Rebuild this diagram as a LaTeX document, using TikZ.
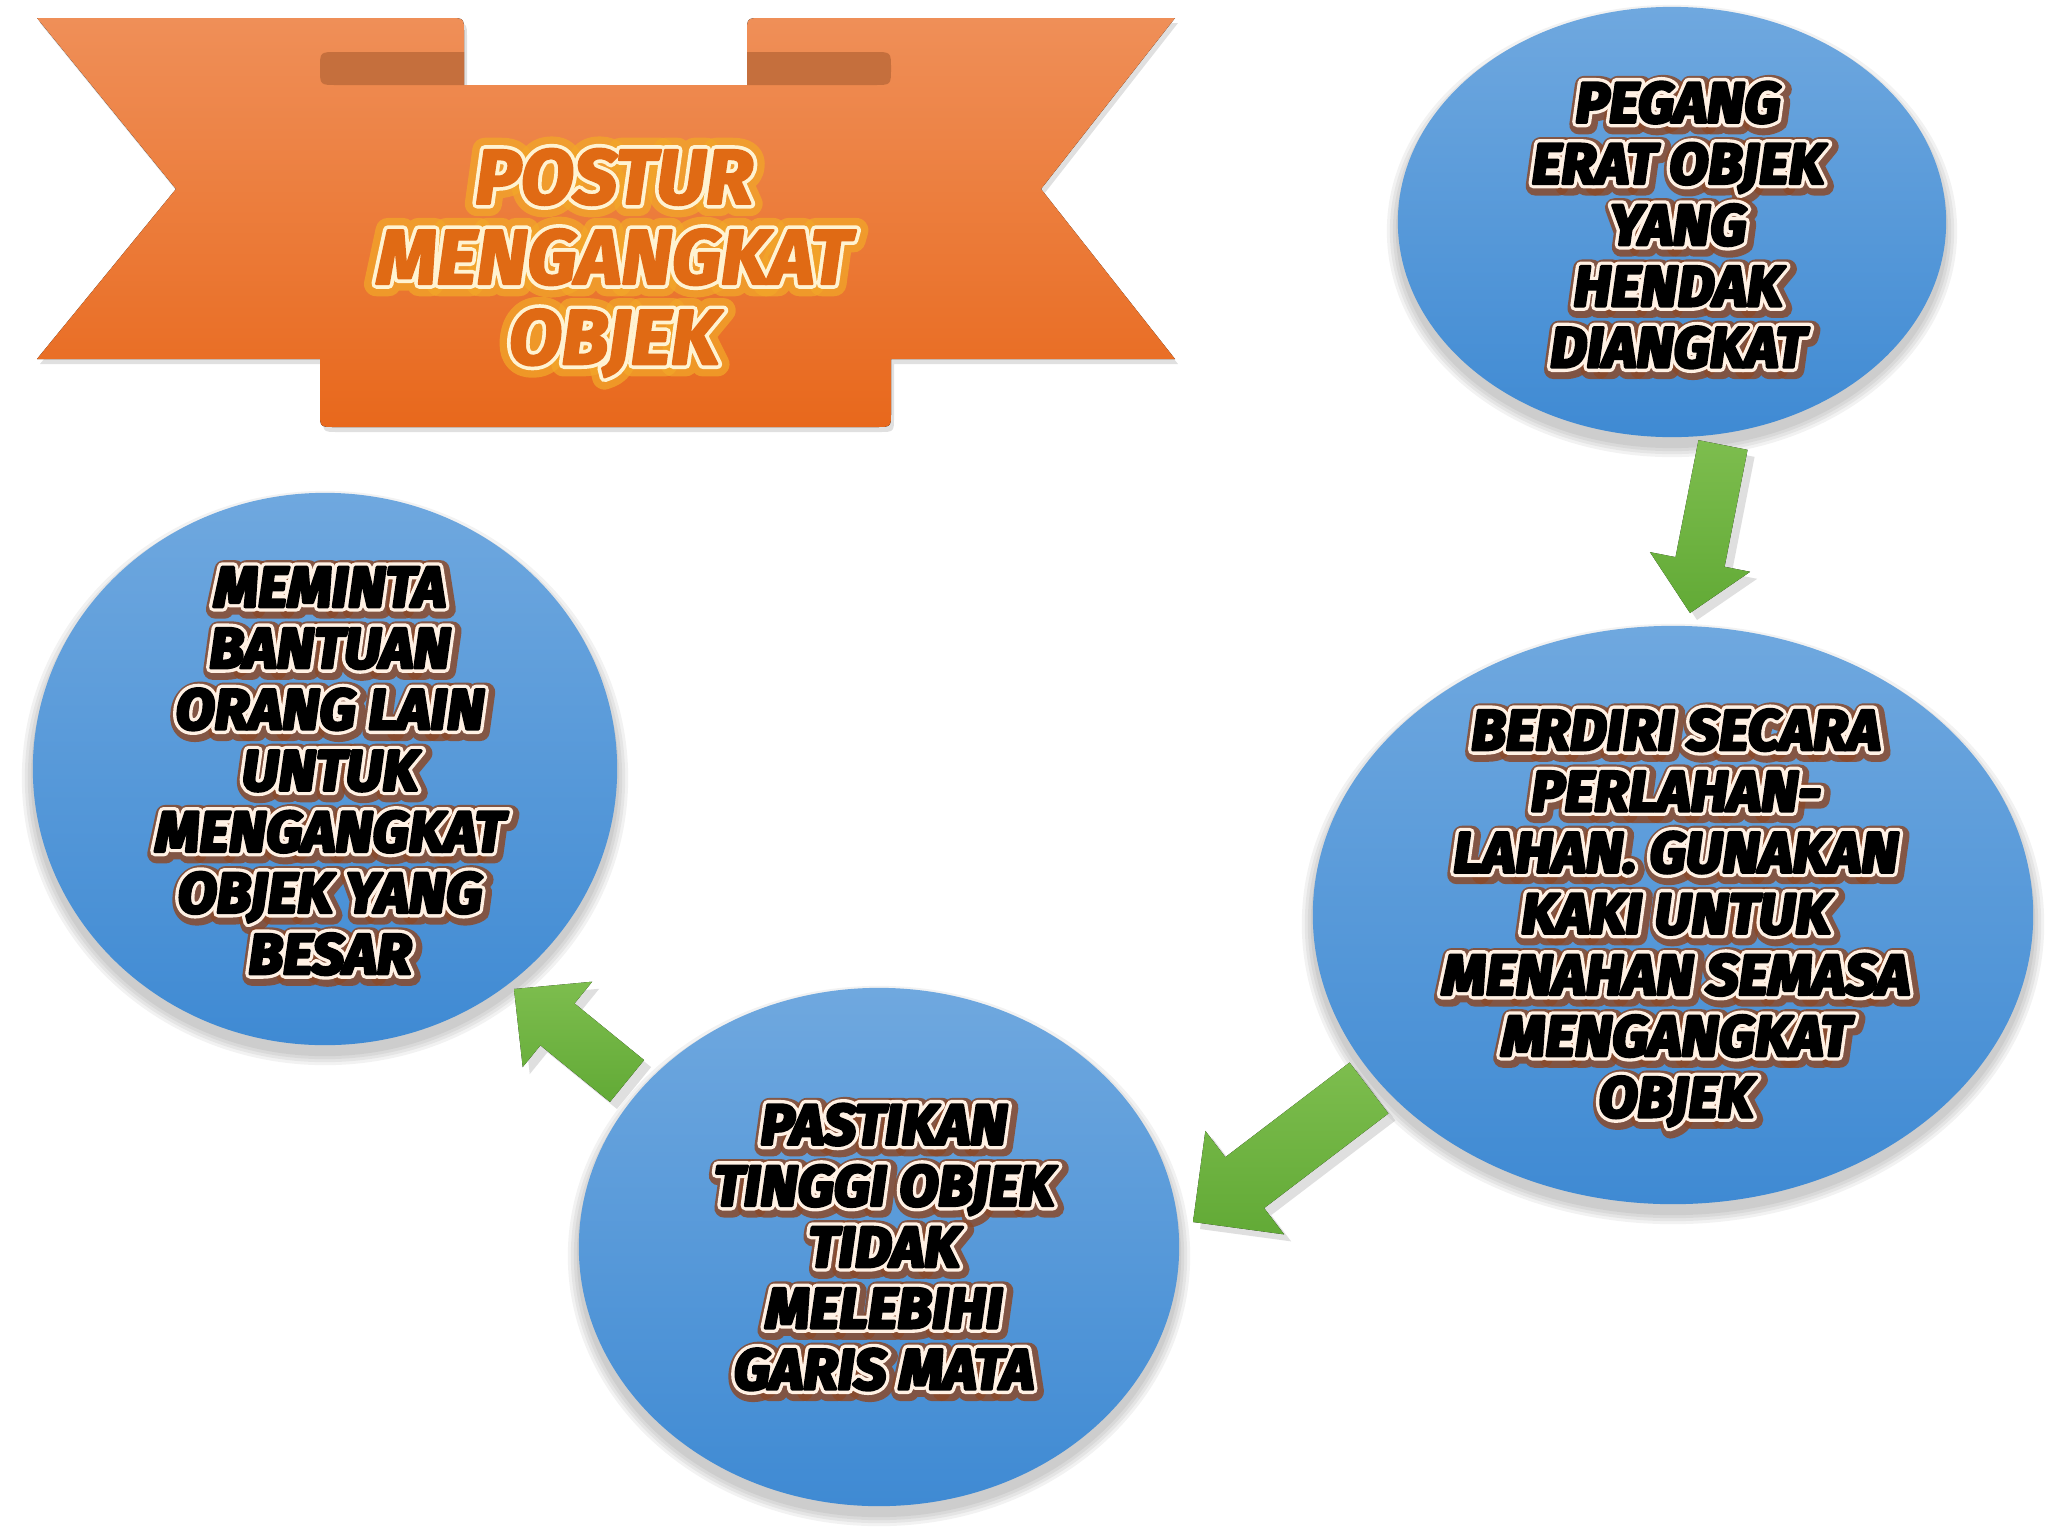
\documentclass[tikz,border=0pt]{standalone}
\usepackage{fontspec}
\setmainfont{Fira Sans}
\IfFontExistsTF{FiraSans-HeavyItalic.otf}
  {\newfontfamily\hvfont{FiraSans-HeavyItalic.otf}}
  {\IfFontExistsTF{FiraSans-ExtraBoldItalic.otf}
     {\newfontfamily\hvfont{FiraSans-ExtraBoldItalic.otf}}
     {\newcommand\hvfont{\bfseries\itshape}}}
\usetikzlibrary{calc,shapes.geometric,shadows}
\definecolor{orT}{HTML}{EF8F58}
\definecolor{orB}{HTML}{E8681C}
\definecolor{foldc}{HTML}{C56F3D}
\definecolor{blueT}{HTML}{6FA8DF}
\definecolor{blueB}{HTML}{3F8AD3}
\definecolor{grT}{HTML}{7DBD4E}
\definecolor{grB}{HTML}{62AA36}
\definecolor{titleor}{HTML}{E06A14}
\definecolor{glowbrown}{HTML}{8A4A2C}
\definecolor{ringcream}{HTML}{FFF1E4}
\definecolor{glowgold}{HTML}{F2A52A}
\definecolor{ringtitle}{HTML}{FFF3D2}
% outlined text: fill in current colour, stroke in given rgb and width
\newcommand\strk[3]{\special{pdf:literal direct 1 j 2 Tr #2 w #1 RG}#3\special{pdf:literal direct 0 Tr 0 j}}
\newcommand\qqm[1]{\strk{0 0 0}{0.9}{#1}}
\newcommand\qqr[1]{\strk{1 0.945 0.894}{2.8}{#1}}
\newcommand\qqg[1]{\strk{0.54 0.29 0.17}{5.4}{#1}}
\newcommand\qtm[1]{\strk{0.878 0.416 0.078}{0.7}{#1}}
\newcommand\qtr[1]{\strk{1 0.953 0.824}{2.8}{#1}}
\newcommand\qtg[1]{\strk{0.95 0.65 0.16}{7.0}{#1}}
\newcommand\bannerpath{(37,18) -- (449,18) .. controls (464,18) .. (464,33) -- (464,85) -- (747,85) -- (747,33)
  .. controls (747,18) .. (762,18) -- (1175,18) -- (1041,189) -- (1175,359) -- (891,359) -- (891,412)
  .. controls (891,427) .. (876,427) -- (335,427) .. controls (320,427) .. (320,412) -- (320,359)
  -- (37,359) -- (176,189) -- cycle}
\newcommand\barrow[5]{%
  \coordinate (bah) at ($(#2)!#5!(#1)$);
  \fill[arrowfill] ($(#1)!#3!90:(#2)$) -- ($(bah)!#3!90:(#2)$) -- ($(bah)!#4!90:(#2)$) -- (#2)
    -- ($(bah)!#4!-90:(#2)$) -- ($(bah)!#3!-90:(#2)$) -- ($(#1)!#3!-90:(#2)$) -- cycle;}
\tikzset{
  bubble/.style={ellipse, inner sep=0pt, top color=blueT, bottom color=blueB, draw=none},
  bshadow/.style={fill=black, opacity=0.05},
  btxt/.style={align=center, inner sep=0pt, text=black, font=\hvfont\fontsize{16.2}{17.4}\selectfont},
  bring/.style={btxt, text=ringcream},
  bglow/.style={btxt, text=glowbrown, text opacity=0.85, xshift=0.5pt, yshift=-0.7pt},
  ttxt/.style={align=center, inner sep=0pt, text=titleor, font=\hvfont\fontsize{22}{22.8}\selectfont},
  tring/.style={ttxt, text=ringtitle},
  tglow/.style={ttxt, text=glowgold, text opacity=0.75},
  arrowfill/.style={top color=grT, bottom color=grB, drop shadow={opacity=0.25, shadow xshift=2pt, shadow yshift=-2pt}},
  bannerfill/.style={top color=orT, bottom color=orB},
}
\begin{document}
\begin{tikzpicture}[x=0.01cm,y=-0.01cm]
\useasboundingbox (0,0) rectangle (2048,1536);
\fill[white] (0,0) rectangle (2048,1536);
% banner shadow
\begin{scope}[shift={(3,5)}]
\fill[black, opacity=0.12] \bannerpath;
\end{scope}
% banner
\fill[bannerfill] \bannerpath;
\fill[foldc] (464,52) -- (337,52) .. controls (320,52) .. (320,68.5) .. controls (320,85) .. (337,85) -- (464,85) -- cycle;
\fill[foldc] (747,52) -- (874,52) .. controls (891,52) .. (891,68.5) .. controls (891,85) .. (874,85) -- (747,85) -- cycle;
\node[tglow] (titleglow) at (614,263) {\qtg{POSTUR}\\\qtg{MENGANGKAT}\\\qtg{OBJEK}};
\node[tring] (titlering) at (614,263) {\qtr{POSTUR}\\\qtr{MENGANGKAT}\\\qtr{OBJEK}};
\node[ttxt] (title) at (614,263) {\qtm{POSTUR}\\\qtm{MENGANGKAT}\\\qtm{OBJEK}};
% bubble shadows
\foreach \cx/\cy/\rx/\ry in {1672/222/2.74/2.15, 1673/915/3.60/2.89, 879/1247/3.00/2.59, 325/769/2.92/2.76}{
  \foreach \k in {0.02,0.05,0.08,0.11}{
    \fill[bshadow] (\cx,\cy+9) ellipse ({\rx cm+\k cm} and {\ry cm+\k cm});
  }
}
% bubbles
\node[bubble, minimum width=5.48cm, minimum height=4.30cm] (c1) at (1672,222) {};
\node[bubble, minimum width=7.20cm, minimum height=5.78cm] (c2) at (1673,915) {};
\node[bubble, minimum width=6.00cm, minimum height=5.18cm] (c3) at (879,1247) {};
\node[bubble, minimum width=5.84cm, minimum height=5.52cm] (c4) at (325,769) {};
% texts (glow layer, ring layer, letter layer)
\node[bglow] (g1) at (1678,225) {\qqg{PEGANG}\\\qqg{ERAT OBJEK}\\\qqg{YANG}\\\qqg{HENDAK}\\\qqg{DIANGKAT}};
\node[bring] (r1) at (1678,225) {\qqr{PEGANG}\\\qqr{ERAT OBJEK}\\\qqr{YANG}\\\qqr{HENDAK}\\\qqr{DIANGKAT}};
\node[btxt] (t1) at (1678,225) {\qqm{PEGANG}\\\qqm{ERAT OBJEK}\\\qqm{YANG}\\\qqm{HENDAK}\\\qqm{DIANGKAT}};
\node[bglow] (g2) at (1676,918) {\qqg{BERDIRI SECARA}\\\qqg{PERLAHAN-}\\\qqg{LAHAN. GUNAKAN}\\\qqg{KAKI UNTUK}\\\qqg{MENAHAN SEMASA}\\\qqg{MENGANGKAT}\\\qqg{OBJEK}};
\node[bring] (r2) at (1676,918) {\qqr{BERDIRI SECARA}\\\qqr{PERLAHAN-}\\\qqr{LAHAN. GUNAKAN}\\\qqr{KAKI UNTUK}\\\qqr{MENAHAN SEMASA}\\\qqr{MENGANGKAT}\\\qqr{OBJEK}};
\node[btxt] (t2) at (1676,918) {\qqm{BERDIRI SECARA}\\\qqm{PERLAHAN-}\\\qqm{LAHAN. GUNAKAN}\\\qqm{KAKI UNTUK}\\\qqm{MENAHAN SEMASA}\\\qqm{MENGANGKAT}\\\qqm{OBJEK}};
\node[bglow] (g3) at (884,1247) {\qqg{PASTIKAN}\\\qqg{TINGGI OBJEK}\\\qqg{TIDAK}\\\qqg{MELEBIHI}\\\qqg{GARIS MATA}};
\node[bring] (r3) at (884,1247) {\qqr{PASTIKAN}\\\qqr{TINGGI OBJEK}\\\qqr{TIDAK}\\\qqr{MELEBIHI}\\\qqr{GARIS MATA}};
\node[btxt] (t3) at (884,1247) {\qqm{PASTIKAN}\\\qqm{TINGGI OBJEK}\\\qqm{TIDAK}\\\qqm{MELEBIHI}\\\qqm{GARIS MATA}};
\node[bglow] (g4) at (330,771) {\qqg{MEMINTA}\\\qqg{BANTUAN}\\\qqg{ORANG LAIN}\\\qqg{UNTUK}\\\qqg{MENGANGKAT}\\\qqg{OBJEK YANG}\\\qqg{BESAR}};
\node[bring] (r4) at (330,771) {\qqr{MEMINTA}\\\qqr{BANTUAN}\\\qqr{ORANG LAIN}\\\qqr{UNTUK}\\\qqr{MENGANGKAT}\\\qqr{OBJEK YANG}\\\qqr{BESAR}};
\node[btxt] (t4) at (330,771) {\qqm{MEMINTA}\\\qqm{BANTUAN}\\\qqm{ORANG LAIN}\\\qqm{UNTUK}\\\qqm{MENGANGKAT}\\\qqm{OBJEK YANG}\\\qqm{BESAR}};
% arrows
\coordinate (a1s) at (1723,445);
\coordinate (a1e) at (1690,613);
\coordinate (a2s) at (1369,1088);
\coordinate (a2e) at (1193,1222);
\coordinate (a3s) at (627,1081);
\coordinate (a3e) at (514,989);
\barrow{a1s}{a1e}{0.25cm}{0.51cm}{0.52cm}
\barrow{a2s}{a2e}{0.32cm}{0.65cm}{0.65cm}
\barrow{a3s}{a3e}{0.27cm}{0.55cm}{0.56cm}
\end{tikzpicture}
\end{document}
